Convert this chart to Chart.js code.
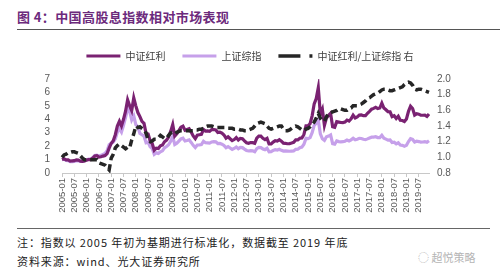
<!DOCTYPE html>
<html>
<head>
<meta charset="utf-8">
<script src="https://cdn.jsdelivr.net/npm/chart.js@4/dist/chart.umd.min.js"></script>
<style>
  body { margin: 0; width: 500px; height: 274px; background: #fff; position: relative; overflow: hidden;
         font-family: "Noto Sans CJK SC", "Liberation Sans", sans-serif; }
  #title { position: absolute; left: 17px; top: 7px; font-size: 13px; font-weight: bold; color: #6c2a7c; letter-spacing: 0.4px; }
  #rule1 { position: absolute; left: 17px; right: 0; top: 29px; border-top: 1.5px solid #555; }
  #box { position: absolute; left: 0; top: 30px; width: 500px; height: 198px; }
  #rule2 { position: absolute; left: 17px; right: 10px; top: 228px; border-top: 1px solid #666; }
  .note { position: absolute; left: 17px; font-size: 11px; color: #222; letter-spacing: 0.9px; }
  #mark { position: absolute; left: 418px; top: 249px; font-size: 11px; color: #b5b5b5; }
</style>
</head>
<body>
<div id="title">图 4：中国高股息指数相对市场表现</div>
<div id="rule1"></div>
<div id="box"><canvas id="chart" width="500" height="198"></canvas></div>
<div id="rule2"></div>
<div class="note" style="top:234px">注：指数以 2005 年初为基期进行标准化，数据截至 2019 年底</div>
<div class="note" style="top:253px">资料来源：wind、光大证券研究所</div>
<div id="mark">◌ 超悦策略</div>
<script>
// monthly, 2005-01 .. 2019-12
const months = [];
for (let y = 2005; y <= 2019; y++) {
    for (let m = 1; m <= 12; m++) months.push(y + '-' + (m < 10 ? '0' + m : m));
}

// 中证红利
const dividend = [
    1.00, 1.06, 0.98, 0.98, 0.89, 0.91, 0.92, 0.98, 0.96, 0.88, 0.86, 0.89,
    0.96, 1.00, 1.00, 1.11, 1.26, 1.29, 1.18, 1.21, 1.26, 1.30, 1.45, 1.85,
    2.20, 2.40, 2.85, 3.50, 3.85, 3.50, 4.00, 4.60, 5.45, 5.00, 4.65, 5.60,
    5.00, 4.50, 4.20, 3.85, 3.70, 2.95, 2.90, 2.40, 2.20, 1.70, 1.85, 1.82,
    2.02, 2.08, 2.33, 2.45, 2.68, 3.10, 3.60, 2.75, 2.92, 3.16, 3.40, 3.48,
    3.18, 3.24, 3.30, 3.05, 2.76, 2.56, 2.82, 2.85, 2.88, 3.24, 3.12, 3.13,
    3.10, 3.23, 3.24, 3.20, 3.02, 3.04, 2.97, 2.83, 2.59, 2.70, 2.55, 2.41,
    2.49, 2.64, 2.46, 2.58, 2.55, 2.39, 2.25, 2.21, 2.27, 2.26, 2.21, 2.59,
    2.74, 2.74, 2.58, 2.49, 2.58, 2.16, 2.16, 2.30, 2.40, 2.38, 2.48, 2.37,
    2.22, 2.20, 2.18, 2.19, 2.23, 2.28, 2.46, 2.46, 2.59, 2.61, 2.87, 3.51,
    3.51, 3.67, 4.26, 5.15, 5.55, 6.35, 4.38, 4.75, 3.55, 4.10, 4.29, 4.44,
    3.44, 3.40, 3.82, 3.79, 3.76, 3.75, 3.79, 3.94, 3.87, 4.03, 4.30, 4.10,
    4.18, 4.31, 4.32, 4.27, 4.27, 4.45, 4.59, 4.75, 4.81, 4.89, 4.80, 4.84,
    5.20, 4.84, 4.71, 4.56, 4.55, 4.20, 4.26, 4.06, 4.23, 3.93, 3.91, 3.84,
    4.02, 4.59, 4.97, 4.80, 4.32, 4.41, 4.38, 4.30, 4.30, 4.31, 4.21, 4.39
];

// 上证综指
const composite = [
    1.00, 1.03, 0.94, 0.92, 0.84, 0.85, 0.86, 0.92, 0.91, 0.86, 0.87, 0.92,
    0.99, 1.03, 1.03, 1.14, 1.30, 1.33, 1.27, 1.31, 1.38, 1.45, 1.66, 2.11,
    2.22, 2.30, 2.55, 3.05, 3.30, 3.05, 3.55, 4.15, 4.80, 4.60, 3.95, 4.25,
    3.60, 3.45, 2.95, 2.85, 2.75, 2.25, 2.30, 1.95, 1.82, 1.38, 1.50, 1.46,
    1.58, 1.65, 1.88, 1.97, 2.10, 2.36, 2.72, 2.12, 2.22, 2.38, 2.54, 2.60,
    2.38, 2.42, 2.47, 2.28, 2.06, 1.90, 2.09, 2.10, 2.12, 2.36, 2.25, 2.24,
    2.22, 2.31, 2.33, 2.32, 2.19, 2.20, 2.15, 2.05, 1.88, 1.97, 1.86, 1.76,
    1.83, 1.94, 1.81, 1.91, 1.89, 1.78, 1.68, 1.64, 1.67, 1.65, 1.58, 1.81,
    1.90, 1.89, 1.79, 1.74, 1.84, 1.58, 1.59, 1.68, 1.74, 1.71, 1.77, 1.69,
    1.63, 1.64, 1.63, 1.62, 1.63, 1.64, 1.76, 1.77, 1.89, 1.93, 2.14, 2.58,
    2.56, 2.64, 3.00, 3.55, 3.70, 3.95, 2.92, 2.55, 2.43, 2.70, 2.75, 2.83,
    2.18, 2.14, 2.39, 2.34, 2.32, 2.33, 2.37, 2.46, 2.39, 2.47, 2.59, 2.47,
    2.52, 2.58, 2.57, 2.51, 2.48, 2.54, 2.61, 2.67, 2.67, 2.70, 2.64, 2.63,
    2.80, 2.59, 2.52, 2.45, 2.46, 2.27, 2.29, 2.17, 2.25, 2.08, 2.06, 1.99,
    2.06, 2.34, 2.55, 2.50, 2.31, 2.37, 2.34, 2.30, 2.31, 2.33, 2.29, 2.40
];

// 中证红利/上证综指 (right axis)
const ratio = [
    1.00, 1.03, 1.04, 1.06, 1.06, 1.07, 1.07, 1.06, 1.05, 1.02, 0.99, 0.97,
    0.97, 0.97, 0.97, 0.97, 0.97, 0.97, 0.93, 0.92, 0.91, 0.90, 0.87, 0.84,
    0.99, 1.04, 1.12, 1.15, 1.17, 1.15, 1.13, 1.11, 1.13, 1.12, 1.22, 1.30,
    1.40, 1.38, 1.39, 1.37, 1.35, 1.31, 1.22, 1.20, 1.21, 1.23, 1.23, 1.25,
    1.28, 1.26, 1.24, 1.24, 1.28, 1.31, 1.32, 1.30, 1.32, 1.33, 1.34, 1.34,
    1.34, 1.34, 1.34, 1.34, 1.34, 1.35, 1.35, 1.36, 1.36, 1.37, 1.39, 1.40,
    1.40, 1.40, 1.39, 1.38, 1.38, 1.38, 1.38, 1.38, 1.38, 1.37, 1.37, 1.37,
    1.36, 1.36, 1.36, 1.35, 1.35, 1.34, 1.34, 1.35, 1.36, 1.37, 1.40, 1.43,
    1.44, 1.45, 1.44, 1.43, 1.40, 1.37, 1.36, 1.37, 1.38, 1.39, 1.40, 1.40,
    1.36, 1.34, 1.34, 1.35, 1.37, 1.39, 1.40, 1.39, 1.37, 1.35, 1.34, 1.36,
    1.37, 1.39, 1.42, 1.45, 1.50, 1.56, 1.50, 1.47, 1.46, 1.52, 1.56, 1.57,
    1.58, 1.59, 1.60, 1.62, 1.62, 1.61, 1.60, 1.60, 1.62, 1.63, 1.66, 1.66,
    1.66, 1.67, 1.68, 1.70, 1.72, 1.75, 1.76, 1.78, 1.80, 1.81, 1.82, 1.84,
    1.86, 1.87, 1.87, 1.86, 1.85, 1.85, 1.86, 1.87, 1.88, 1.89, 1.90, 1.93,
    1.95, 1.96, 1.95, 1.92, 1.87, 1.86, 1.87, 1.87, 1.86, 1.85, 1.84, 1.83
];

const leftTicks = [0, 1, 2, 3, 4, 5, 6, 7];
const rightTicks = [0.8, 1.0, 1.2, 1.4, 1.6, 1.8, 2.0];

Chart.defaults.font.family = '"Liberation Sans", Arial, sans-serif';

// push the plot a bit further down from the legend
const legendGap = {
    id: 'legendGap',
    beforeLayout(chart) {
        const lg = chart.legend;
        if (lg && !lg._gapped) {
            const fit = lg.fit;
            lg.fit = function () { fit.call(this); this.height += 8; };
            lg._gapped = true;
        }
    }
};

const ctx = document.getElementById('chart').getContext('2d');
new Chart(ctx, {
    type: 'line',
    data: {
        labels: months,
        datasets: [{
            label: '中证红利',
            data: dividend,
            borderColor: '#7a2272',
            backgroundColor: '#7a2272',
            borderWidth: 3.2,
            pointRadius: 0,
            yAxisID: 'y',
            order: 1
        }, {
            label: '上证综指',
            data: composite,
            borderColor: '#c6a0ea',
            backgroundColor: '#c6a0ea',
            borderWidth: 3.2,
            pointRadius: 0,
            yAxisID: 'y',
            order: 2
        }, {
            label: '中证红利/上证综指 右',
            data: ratio,
            borderColor: '#262626',
            backgroundColor: '#262626',
            borderWidth: 3.5,
            borderDash: [7, 4],
            pointRadius: 0,
            yAxisID: 'y1',
            order: 0
        }]
    },
    options: {
        responsive: false,
        animation: false,
        layout: { padding: { top: 4, left: 0, right: 0, bottom: 0 } },
        plugins: {
            tooltip: { enabled: false },
            legend: {
                labels: {
                    usePointStyle: true,
                    pointStyle: 'line',
                    pointStyleWidth: 34,
                    padding: 17,
                    color: '#404040',
                    font: { size: 10, family: '"Noto Sans CJK SC", sans-serif' },
                    sort: (a, b) => a.datasetIndex - b.datasetIndex,
                    generateLabels: chart => {
                        const items = Chart.defaults.plugins.legend.labels.generateLabels(chart);
                        items.forEach(it => { if (it.datasetIndex === 2) it.lineDash = [22, 9]; });
                        return items;
                    }
                }
            }
        },
        scales: {
            x: {
                grid: {
                    drawOnChartArea: false,
                    tickLength: 4,
                    color: c => (c.index % 6 === 0 ? '#c8c8c8' : 'rgba(0,0,0,0)')
                },
                border: { color: '#c8c8c8' },
                ticks: {
                    autoSkip: false,
                    minRotation: 90,
                    maxRotation: 90,
                    padding: 1,
                    color: '#595959',
                    font: { size: 9.5 },
                    callback: (v, i) => (i % 6 === 0 ? months[i] : '')
                },
                afterFit: s => { s.height = 55; }
            },
            y: {
                position: 'left',
                min: leftTicks[0],
                max: leftTicks[leftTicks.length - 1],
                grid: { display: false, drawTicks: false },
                border: { display: false },
                ticks: { stepSize: 1, autoSkip: false, padding: 12, color: '#595959', font: { size: 10 } },
                afterFit: s => { s.width = 62; }
            },
            y1: {
                position: 'right',
                min: rightTicks[0],
                max: rightTicks[rightTicks.length - 1],
                grid: { display: false, drawTicks: false },
                border: { display: false },
                ticks: { stepSize: 0.2, autoSkip: false, padding: 8, color: '#595959', font: { size: 10 },
                         callback: v => v.toFixed(1) },
                afterFit: s => { s.width = 71; }
            }
        }
    },
    plugins: [legendGap]
});
</script>
</body>
</html>
